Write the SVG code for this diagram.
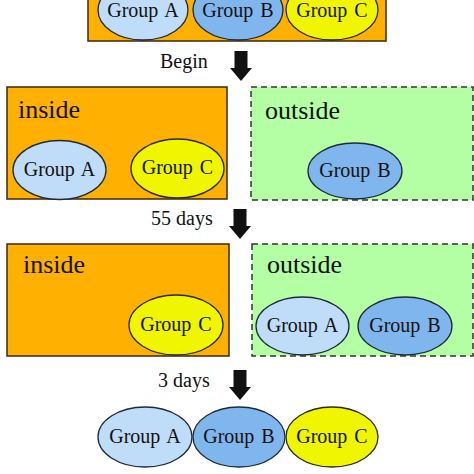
<svg xmlns="http://www.w3.org/2000/svg" width="474" height="474" viewBox="0 0 474 474">
<defs>
<style>
.box{fill:#FFB000;stroke:#3a2a10;stroke-width:1.5}
.out{fill:#B4FFA4;stroke:#333;stroke-width:1.5;stroke-dasharray:6,4}
.ga{fill:#BFDDF9;stroke:#1c2a3a;stroke-width:1.3}
.gb{fill:#80B6EE;stroke:#1c2a3a;stroke-width:1.3}
.gc{fill:#F0F500;stroke:#2a2a10;stroke-width:1.3}
.t{font-family:"Liberation Serif","Times New Roman",serif;fill:#111}
.g{font-size:20px;text-anchor:middle;word-spacing:2px}
.big{font-size:26px}
.lab{font-size:20px}
.arr{fill:#111}
</style>
<path id="arrow" d="M-6.5,0 H6.5 V17 H11 L0,30 L-11,17 H-6.5 Z"/>
</defs>
<g id="top">
<rect class="box" x="88" y="-2" width="298" height="43"/>
<g id="top-a"><ellipse class="ga" cx="143" cy="10" rx="45" ry="30"/><text class="t g" x="143" y="17">Group A</text></g>
<g id="top-b"><ellipse class="gb" cx="238" cy="10" rx="45" ry="30"/><text class="t g" x="238" y="17">Group B</text></g>
<g id="top-c"><ellipse class="gc" cx="332" cy="10" rx="46" ry="30"/><text class="t g" x="332" y="17">Group C</text></g>
</g>
<g id="connectors">
<use href="#arrow" class="arr" x="241" y="51"/>
<text class="t lab" x="160" y="68">Begin</text>
<use href="#arrow" class="arr" x="240" y="209"/>
<text class="t lab" x="151" y="225">55 days</text>
<use href="#arrow" class="arr" x="240" y="370"/>
<text class="t lab" x="158" y="387">3 days</text>
</g>
<g id="inside1">
<rect class="box" x="7" y="87" width="220" height="112"/>
<text class="t big" x="18" y="118">inside</text>
<g id="in1-a"><ellipse class="ga" cx="59.5" cy="170" rx="46.5" ry="29.5"/><text class="t g" x="59.5" y="176">Group A</text></g>
<g id="in1-c"><ellipse class="gc" cx="177.5" cy="168.5" rx="46.5" ry="29.5"/><text class="t g" x="177.5" y="174">Group C</text></g>
</g>
<g id="outside1">
<rect class="out" x="251" y="87" width="222" height="113"/>
<text class="t big" x="265" y="119">outside</text>
<g id="out1-b"><ellipse class="gb" cx="355" cy="171" rx="47" ry="28"/><text class="t g" x="355" y="177">Group B</text></g>
</g>
<g id="inside2">
<rect class="box" x="7" y="244" width="222" height="112"/>
<text class="t big" x="23" y="273">inside</text>
<g id="in2-c"><ellipse class="gc" cx="176" cy="325" rx="47" ry="30"/><text class="t g" x="176" y="331">Group C</text></g>
</g>
<g id="outside2">
<rect class="out" x="252" y="244" width="221" height="112"/>
<text class="t big" x="267" y="273">outside</text>
<g id="out2-a"><ellipse class="ga" cx="302.5" cy="326" rx="46.5" ry="29"/><text class="t g" x="302.5" y="332">Group A</text></g>
<g id="out2-b"><ellipse class="gb" cx="405" cy="326" rx="47" ry="29"/><text class="t g" x="405" y="332">Group B</text></g>
</g>
<g id="bottom">
<g id="bot-a"><ellipse class="ga" cx="145" cy="437" rx="47" ry="30"/><text class="t g" x="145" y="443">Group A</text></g>
<g id="bot-b"><ellipse class="gb" cx="239" cy="437" rx="46" ry="30"/><text class="t g" x="239" y="443">Group B</text></g>
<g id="bot-c"><ellipse class="gc" cx="332" cy="437" rx="46" ry="30"/><text class="t g" x="332" y="443">Group C</text></g>
</g>
</svg>
